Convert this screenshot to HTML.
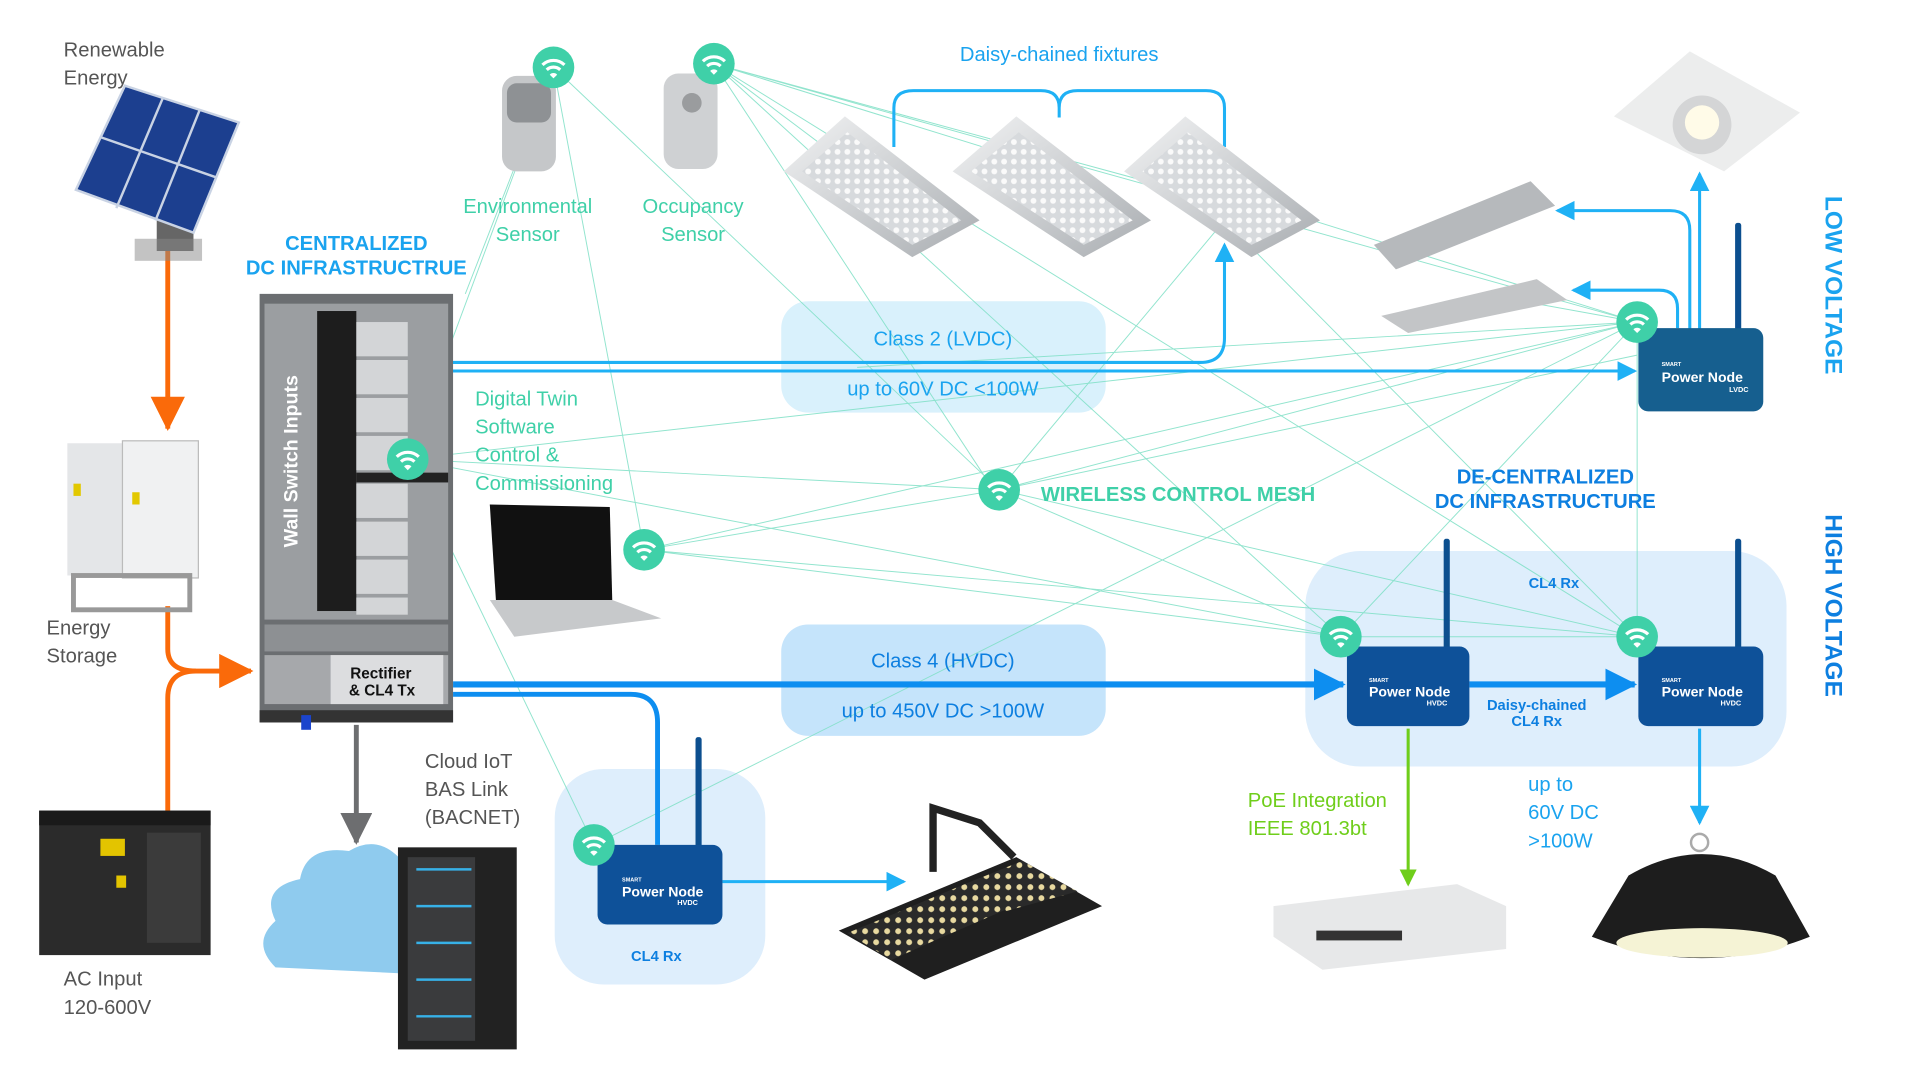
<!DOCTYPE html>
<html><head><meta charset="utf-8"><style>
html,body{margin:0;padding:0;background:#fff;width:1920px;height:1080px;overflow:hidden}
svg{display:block}
text{font-family:"Liberation Sans",sans-serif}
</style></head><body>
<svg width="1920" height="1080" viewBox="0 0 1568 882" xmlns="http://www.w3.org/2000/svg">
<defs>
<marker id="ab" markerWidth="10" markerHeight="10" refX="8" refY="5" orient="auto" markerUnits="userSpaceOnUse"><path d="M0,0 L10,5 L0,10z" fill="#1fb1f5"/></marker>
<marker id="abb" markerWidth="26" markerHeight="26" refX="24" refY="13" orient="auto" markerUnits="userSpaceOnUse"><path d="M0,0 L26,13 L0,26z" fill="#0d8ef0"/></marker>
<marker id="ao" markerWidth="28" markerHeight="28" refX="26" refY="14" orient="auto" markerUnits="userSpaceOnUse"><path d="M0,0 L28,14 L0,28z" fill="#fa6a0a"/></marker>
<marker id="ag" markerWidth="26" markerHeight="26" refX="24" refY="13" orient="auto" markerUnits="userSpaceOnUse"><path d="M0,0 L26,13 L0,26z" fill="#6d6e70"/></marker>
<marker id="agr" markerWidth="14" markerHeight="14" refX="12" refY="7" orient="auto" markerUnits="userSpaceOnUse"><path d="M0,0 L14,7 L0,14z" fill="#6fce1b"/></marker>
<marker id="ab2" markerWidth="16" markerHeight="16" refX="14" refY="8" orient="auto" markerUnits="userSpaceOnUse"><path d="M0,0 L16,8 L0,16z" fill="#1fb1f5"/></marker>
<g id="wifi"><circle r="17" fill="#3fd0a8"/><path d="M-9,-2 A13,13 0 0 1 9,-2" stroke="#fff" stroke-width="2.6" fill="none"/><path d="M-5.5,2 A8,8 0 0 1 5.5,2" stroke="#fff" stroke-width="2.6" fill="none"/><path d="M-3,6 L0,9 L3,6 A4,4 0 0 0 -3,6z" fill="#fff"/></g>
<linearGradient id="panel" x1="0" x2="1" y1="0" y2="1"><stop offset="0" stop-color="#f2f3f4"/><stop offset="1" stop-color="#a9adb1"/></linearGradient>
<pattern id="dots" width="8" height="8" patternUnits="userSpaceOnUse"><rect width="8" height="8" fill="#d7dadd"/><circle cx="4" cy="4" r="2.4" fill="#fafafa"/></pattern>
<pattern id="leds" width="9" height="9" patternUnits="userSpaceOnUse"><rect width="9" height="9" fill="#2a2a2a"/><circle cx="4.5" cy="4.5" r="2.4" fill="#e8d9a0"/></pattern>
</defs>

<rect x="638" y="246" width="265" height="91" rx="22" fill="#d9f1fc"/>
<rect x="638" y="510" width="265" height="91" rx="22" fill="#c5e4fb"/>
<rect x="1066" y="450" width="393" height="176" rx="45" fill="#deeefc"/>
<rect x="453" y="628" width="172" height="176" rx="40" fill="#deeefc"/>

<g stroke="#7fe0c6" stroke-width="0.8" fill="none" opacity="0.85">
<path d="M583,52 L700,140 M583,52 L835,130 M583,52 L980,160 M583,52 L808,395 M583,52 L1095,520 M583,52 L1337,263"/>
<path d="M452,55 L526,449 M583,52 L1337,520 M452,55 L816,400"/>
<path d="M333,375 L452,55 M333,375 L816,400 M333,375 L1337,263 M333,375 L485,690 M333,375 L1095,520"/>
<path d="M526,449 L1337,263 M526,449 L1337,520 M526,449 L1095,520 M526,449 L816,400"/>
<path d="M816,400 L1337,263 M816,400 L1337,520 M816,400 L1095,520 M816,400 L1000,180 M816,400 L1337,290"/>
<path d="M485,690 L1337,263 M1095,520 L1337,263 M1095,520 L1337,520 M1337,263 L1337,520 M1337,263 L1210,240 M1337,263 L1040,170 M1337,263 L700,300"/>
<path d="M1000,180 L1337,520 M380,240 L452,55"/>
</g>

<g stroke="#fa6a0a" stroke-width="4" fill="none">
<path d="M137,205 L137,350" marker-end="url(#ao)"/>
<path d="M137,495 L137,530 Q137,548 160,548 L205,548" marker-end="url(#ao)"/>
<path d="M137,662 L137,570 Q137,548 160,548"/>
</g>
<path d="M291,592 L291,688" stroke="#6d6e70" stroke-width="4" fill="none" marker-end="url(#ag)"/>

<g stroke="#1fb1f5" stroke-width="2.5" fill="none">
<path d="M333,296 L980,296 Q1000,296 1000,276 L1000,200" marker-end="url(#ab2)"/>
<path d="M333,303 L1335,303" marker-end="url(#ab2)"/>
<path d="M730,120 L730,88 Q730,74 746,74 L850,74 Q865,74 865,88 L865,96 M865,96 L865,88 Q865,74 880,74 L985,74 Q1000,74 1000,88 L1000,120"/>
<path d="M1380,270 L1380,188 Q1380,172 1364,172 L1272,172" marker-end="url(#ab2)"/>
<path d="M1388,270 L1388,142" marker-end="url(#ab2)"/>
<path d="M1370,268 L1370,252 Q1370,237 1355,237 L1285,237" marker-end="url(#ab2)"/>
<path d="M1388,595 L1388,672" marker-end="url(#ab2)"/>
<path d="M590,720 L738,720" marker-end="url(#ab2)"/>
</g>
<g stroke="#0d8ef0" fill="none">
<path d="M370,559 L1097,559" stroke-width="5" marker-end="url(#abb)"/>
<path d="M1200,559 L1335,559" stroke-width="5" marker-end="url(#abb)"/>
<path d="M370,567 L515,567 Q537,567 537,590 L537,690" stroke-width="4"/>
</g>
<path d="M1150,595 L1150,722" stroke="#6fce1b" stroke-width="2.5" fill="none" marker-end="url(#agr)"/>

<!-- solar -->
<g>
<rect x="128" y="150" width="30" height="55" fill="#666"/>
<polygon points="102,70 195,100 158,190 62,155" fill="#1c3f8f" stroke="#c9d3e4" stroke-width="2"/>
<path d="M133,80 L95,170 M163,90 L127,180 M82,112 L177,145" stroke="#c9d3e4" stroke-width="2"/>
<rect x="110" y="195" width="55" height="18" fill="#888" opacity="0.5"/>
</g>
<g>
<rect x="55" y="362" width="48" height="108" fill="#e4e6e8"/>
<rect x="100" y="360" width="62" height="112" fill="#f0f1f2" stroke="#bbb"/>
<rect x="60" y="470" width="95" height="28" fill="none" stroke="#999" stroke-width="4"/>
<rect x="108" y="402" width="6" height="10" fill="#e2c800"/><rect x="60" y="395" width="6" height="10" fill="#e2c800"/>
</g>
<g>
<rect x="32" y="662" width="140" height="118" fill="#2b2b2b"/>
<rect x="32" y="662" width="140" height="12" fill="#1a1a1a"/>
<rect x="120" y="680" width="44" height="90" fill="#3b3b3b"/>
<rect x="82" y="685" width="20" height="14" fill="#e3c400"/><rect x="95" y="715" width="8" height="10" fill="#e3c400"/>
</g>
<g>
<rect x="212" y="240" width="158" height="350" fill="#6b6e71"/>
<rect x="216" y="248" width="150" height="258" fill="#9b9ea1"/>
<rect x="259" y="254" width="32" height="245" fill="#1d1d1d"/>
<g fill="#d3d5d7">
<rect x="291" y="263" width="42" height="28"/><rect x="291" y="294" width="42" height="28"/><rect x="291" y="325" width="42" height="28"/><rect x="291" y="356" width="42" height="28"/>
<rect x="291" y="395" width="42" height="28"/><rect x="291" y="426" width="42" height="28"/><rect x="291" y="457" width="42" height="28"/><rect x="291" y="488" width="42" height="14"/>
</g>
<rect x="291" y="386" width="75" height="8" fill="#222"/>
<rect x="216" y="510" width="150" height="22" fill="#8d9093"/>
<rect x="216" y="535" width="150" height="40" fill="#a6a8ab"/>
<rect x="270" y="535" width="92" height="40" fill="#dcdddf"/>
<rect x="212" y="580" width="158" height="10" fill="#333"/>
<rect x="246" y="584" width="8" height="12" fill="#1b44cc"/>
<text x="311" y="554" font-size="12.5" font-weight="bold" fill="#111" text-anchor="middle">Rectifier</text>
<text x="312" y="568" font-size="12.5" font-weight="bold" fill="#111" text-anchor="middle">&amp; CL4 Tx</text>
<text transform="translate(243,447) rotate(-90)" font-size="16" font-weight="bold" fill="#fff">Wall Switch Inputs</text>
</g>
<g>
<path d="M225,790 Q205,770 225,752 Q212,725 245,718 Q250,690 285,695 Q310,680 330,705 L330,795 Z" fill="#8fcbee"/>
<rect x="325" y="692" width="97" height="165" fill="#222"/>
<rect x="333" y="700" width="55" height="150" fill="#3a3b3d"/>
<g stroke="#37b1e8" stroke-width="2"><path d="M340,710 L385,710 M340,740 L385,740 M340,770 L385,770 M340,800 L385,800 M340,830 L385,830"/></g>
</g>
<rect x="410" y="62" width="44" height="78" rx="12" fill="#c5c7c9"/><rect x="414" y="68" width="36" height="32" rx="8" fill="#8e9194"/>
<rect x="542" y="60" width="44" height="78" rx="12" fill="#cfd1d3"/><circle cx="565" cy="84" r="8" fill="#9a9c9e"/>
<polygon points="400,412 498,414 500,490 405,490" fill="#111"/>
<polygon points="400,490 500,490 540,505 420,520" fill="#c7c9cb"/>
<g>
<polygon points="640,140 690,95 800,180 745,210" fill="url(#panel)"/><polygon points="655,140 692,108 785,180 745,200" fill="url(#dots)"/>
<polygon points="778,140 830,95 940,180 885,210" fill="url(#panel)"/><polygon points="793,140 832,108 925,180 885,200" fill="url(#dots)"/>
<polygon points="918,140 968,95 1078,180 1022,210" fill="url(#panel)"/><polygon points="933,140 970,108 1063,180 1022,200" fill="url(#dots)"/>
</g>
<polygon points="1318,95 1380,42 1470,92 1408,140" fill="#eceded"/>
<circle cx="1390" cy="102" r="24" fill="#d4d5d6"/><circle cx="1390" cy="100" r="14" fill="#fffbe8"/>
<polygon points="1122,200 1250,148 1270,168 1140,220" fill="#b6b9bc"/>
<polygon points="1128,258 1255,228 1280,245 1150,272" fill="#c3c5c7"/>
<g font-weight="bold" fill="#fff">
<rect x="1417" y="182" width="5" height="90" rx="2" fill="#0c4f8f"/>
<rect x="1338" y="268" width="102" height="68" rx="8" fill="#165f8f"/>
<text x="1357" y="299" font-size="4.5">SMART</text><text x="1357" y="312" font-size="11.5">Power Node</text><text x="1428" y="320" font-size="6" text-anchor="end">LVDC</text>
<rect x="1179" y="440" width="5" height="92" rx="2" fill="#0c4f8f"/>
<rect x="1100" y="528" width="100" height="65" rx="8" fill="#0e5199"/>
<text x="1118" y="557" font-size="4.5">SMART</text><text x="1118" y="569" font-size="11.5">Power Node</text><text x="1182" y="576" font-size="6" text-anchor="end">HVDC</text>
<rect x="1417" y="440" width="5" height="92" rx="2" fill="#0c4f8f"/>
<rect x="1338" y="528" width="102" height="65" rx="8" fill="#0e5199"/>
<text x="1357" y="557" font-size="4.5">SMART</text><text x="1357" y="569" font-size="11.5">Power Node</text><text x="1422" y="576" font-size="6" text-anchor="end">HVDC</text>
<rect x="568" y="602" width="5" height="92" rx="2" fill="#0c4f8f"/>
<rect x="488" y="690" width="102" height="65" rx="8" fill="#0e5199"/>
<text x="508" y="720" font-size="4.5">SMART</text><text x="508" y="732" font-size="11.5">Power Node</text><text x="570" y="739" font-size="6" text-anchor="end">HVDC</text>
</g>
<g>
<path d="M762,712 L762,660 L800,672 L828,700" stroke="#222" stroke-width="6" fill="none"/>
<polygon points="685,760 830,700 900,740 755,800" fill="#1f1f1f"/>
<polygon points="692,762 755,736 790,756 728,784" fill="url(#leds)"/>
<polygon points="740,742 800,717 835,737 775,763" fill="url(#leds)"/>
<polygon points="788,722 835,703 880,728 822,744" fill="url(#leds)"/>
<polygon points="1040,740 1190,722 1230,740 1230,775 1080,792 1040,765" fill="#e7e8e9"/>
<rect x="1075" y="760" width="70" height="8" fill="#333"/>
<path d="M1330,715 Q1390,680 1450,715 L1478,765 Q1390,800 1300,765 Z" fill="#1d1d1d"/>
<ellipse cx="1390" cy="770" rx="70" ry="12" fill="#f5f3d5"/>
<circle cx="1388" cy="688" r="7" fill="none" stroke="#aaa" stroke-width="2"/>
</g>

<use href="#wifi" x="452" y="55"/><use href="#wifi" x="583" y="52"/><use href="#wifi" x="333" y="375"/><use href="#wifi" x="526" y="449"/>
<use href="#wifi" x="816" y="400"/><use href="#wifi" x="1337" y="263"/><use href="#wifi" x="1095" y="520"/><use href="#wifi" x="1337" y="520"/><use href="#wifi" x="485" y="690"/>

<g font-size="16.5" fill="#555">
<text x="52" y="46">Renewable</text><text x="52" y="69">Energy</text>
<text x="38" y="518">Energy</text><text x="38" y="541">Storage</text>
<text x="52" y="805">AC Input</text><text x="52" y="828">120-600V</text>
<text x="347" y="627">Cloud IoT</text><text x="347" y="650">BAS Link</text><text x="347" y="673">(BACNET)</text>
</g>
<g font-size="16.5" fill="#3fd0a8">
<text x="431" y="174" text-anchor="middle">Environmental</text><text x="431" y="197" text-anchor="middle">Sensor</text>
<text x="566" y="174" text-anchor="middle">Occupancy</text><text x="566" y="197" text-anchor="middle">Sensor</text>
<text x="388" y="331">Digital Twin</text><text x="388" y="354">Software</text><text x="388" y="377">Control &amp;</text><text x="388" y="400">Commissioning</text>
<text x="850" y="409" font-weight="bold">WIRELESS CONTROL MESH</text>
</g>
<g fill="#1aa3ef" text-anchor="middle">
<text x="865" y="50" font-size="16.5">Daisy-chained fixtures</text>
<text x="770" y="282" font-size="16.5">Class 2 (LVDC)</text>
<text x="770" y="323" font-size="16.5">up to 60V DC &lt;100W</text>
<text x="770" y="545" font-size="16.5" fill="#0d7fe0">Class 4 (HVDC)</text>
<text x="770" y="586" font-size="16.5" fill="#0d7fe0">up to 450V DC &gt;100W</text>
<text x="291" y="204" font-size="16.5" font-weight="bold">CENTRALIZED</text>
<text x="291" y="224" font-size="16.5" font-weight="bold">DC INFRASTRUCTRUE</text>
<text x="1262" y="395" font-size="16.5" font-weight="bold" fill="#0d7fe0">DE-CENTRALIZED</text>
<text x="1262" y="415" font-size="16.5" font-weight="bold" fill="#0d7fe0">DC INFRASTRUCTURE</text>
<text x="1269" y="480" font-size="12" font-weight="bold" fill="#0d7fe0">CL4 Rx</text>
<text x="1255" y="580" font-size="12" font-weight="bold" fill="#0d7fe0">Daisy-chained</text>
<text x="1255" y="593" font-size="12" font-weight="bold" fill="#0d7fe0">CL4 Rx</text>
<text x="536" y="785" font-size="12" font-weight="bold" fill="#0d7fe0">CL4 Rx</text>
</g>
<g font-size="16.5" fill="#1aa3ef"><text x="1248" y="646">up to</text><text x="1248" y="669">60V DC</text><text x="1248" y="692">&gt;100W</text></g>
<g font-size="16.5" fill="#6fce1b"><text x="1019" y="659">PoE Integration</text><text x="1019" y="682">IEEE 801.3bt</text></g>
<text transform="translate(1491,160) rotate(90)" font-size="20" font-weight="bold" fill="#1aa3ef">LOW VOLTAGE</text>
<text transform="translate(1491,420) rotate(90)" font-size="20" font-weight="bold" fill="#0d7fe0">HIGH VOLTAGE</text>
</svg>
</body></html>
